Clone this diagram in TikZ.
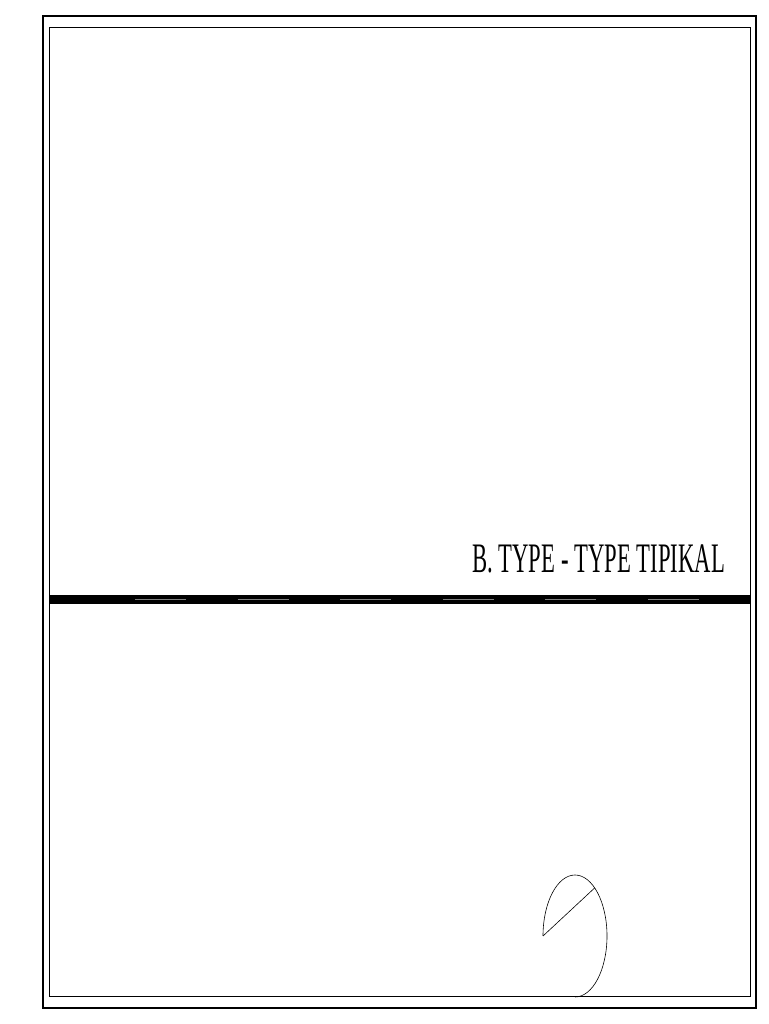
\documentclass[tikz,border=0pt]{standalone}
\usepackage{fontspec}
\setmainfont{Liberation Serif}
\usepackage{tikz}

\begin{document}
\begin{tikzpicture}[x=1pt,y=1pt]
    \useasboundingbox (0,0) rectangle (768,1024);
    \draw[line width=2pt] (43,16) rectangle (756,1008);
    \draw[line width=1pt] (49.5,27) rectangle (750.5,996.5);
    \fill (49.5,420) rectangle (750.5,429);
    \foreach \i in {0,...,5}
      \draw[gray,line width=1pt] (135+102.6*\i,424) -- ++(51,0);
    \node[anchor=base east,xscale=.54,inner sep=0pt,font=\fontsize{42}{42}\selectfont] (title) at (725,451) {B. TYPE - TYPE TIPIKAL};
    \draw[line width=.6pt] (543,88) arc (180:-90:32 and 61);
    \draw[line width=.6pt] (543,88) -- (594.7,136.1);
\end{tikzpicture}
\end{document}
